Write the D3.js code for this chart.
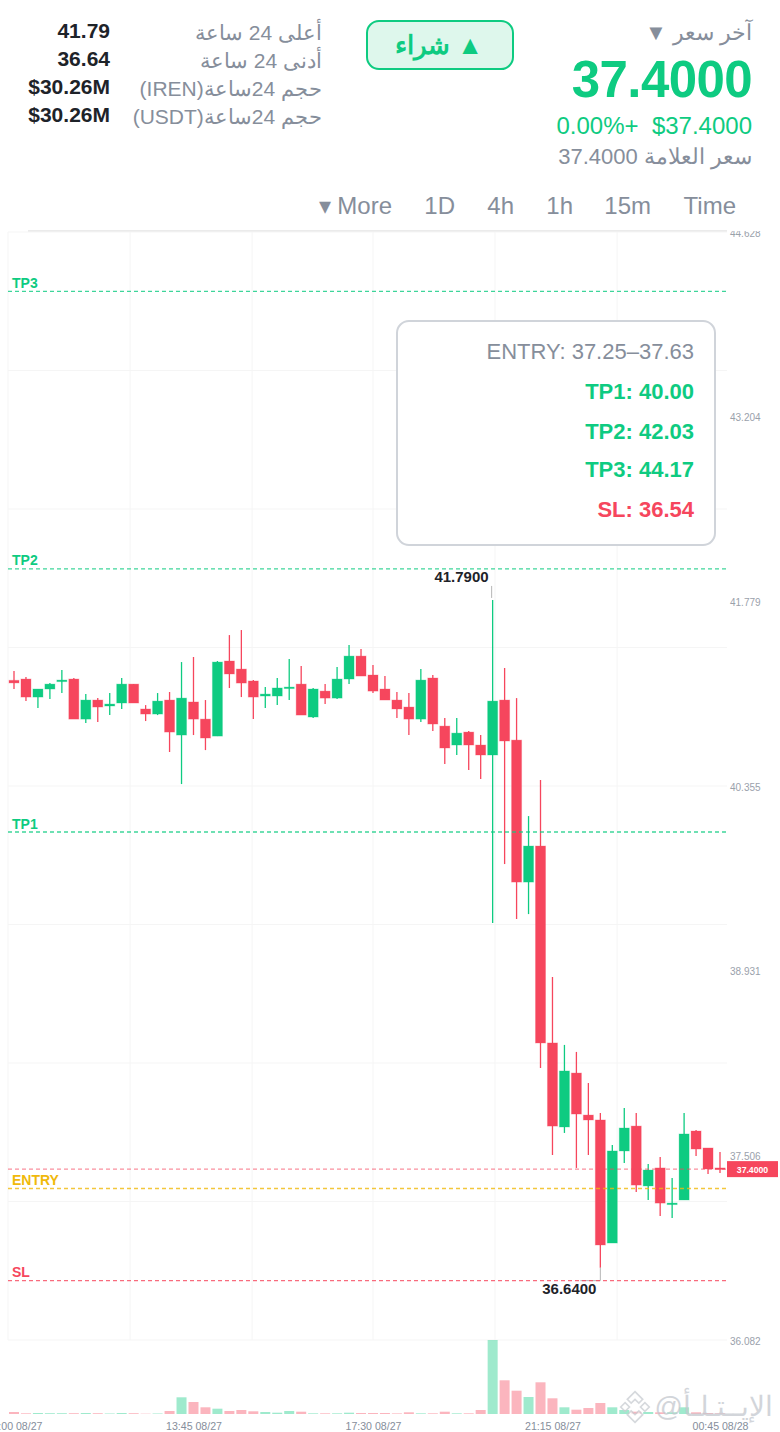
<!DOCTYPE html>
<html>
<head>
<meta charset="utf-8">
<script src="https://cdn.jsdelivr.net/npm/d3@7"></script>
<style>
  html, body { margin: 0; padding: 0; background: #fff; overflow: hidden; }
  svg { display: block; font-family: "Liberation Sans", Arial, sans-serif; }
</style>
</head>
<body>
<div id="viz"></div>
<script>
const width = 780;
const height = 1432;

// candles, 15 minute bars
const opens = [41.17,41.18,41.041,41.103,41.16,41.18,40.871,41.018,40.972,40.995,41.141,40.949,40.91,41.018,40.748,41.003,40.871,40.74,41.319,41.257,41.165,41.049,41.049,41.111,41.141,40.887,41.087,41.033,41.18,41.357,41.211,41.103,41.018,40.964,40.871,41.188,40.817,40.671,40.771,40.671,40.594,41.018,40.709,39.614,39.892,38.373,37.725,38.141,37.817,37.779,36.83,37.54,37.732,37.27,37.409,37.131,37.162,37.694,37.563,37.409];
const highs = [41.242,41.195,41.103,41.149,41.249,41.188,41.064,41.033,41.072,41.188,41.141,40.979,41.072,41.08,41.311,41.35,41.018,41.319,41.519,41.558,41.172,41.118,41.188,41.334,41.28,41.111,41.141,41.273,41.442,41.411,41.288,41.203,41.08,41.072,41.257,41.211,40.879,40.879,40.779,40.748,41.79,41.265,41.033,40.123,40.401,38.882,38.358,38.304,38.064,37.833,37.586,37.871,37.833,37.439,37.493,37.331,37.833,37.702,37.563,37.532];
const lows = [41.103,41.01,40.956,41.026,41.072,40.871,40.841,40.848,40.902,40.949,40.995,40.856,40.902,40.617,40.37,40.748,40.632,40.74,41.111,41.041,40.871,40.956,40.979,41.018,40.902,40.879,40.987,41.026,41.141,41.203,41.072,41.018,40.879,40.748,40.848,40.779,40.524,40.594,40.478,40.409,39.298,39.753,39.329,39.367,38.18,37.509,37.679,37.409,37.509,36.64,36.83,37.447,37.223,37.162,37.038,37.023,37.162,37.501,37.362,37.37];
const closes = [41.15,41.041,41.103,41.141,41.172,40.871,41.018,40.964,40.987,41.141,40.995,40.91,41.01,40.771,41.033,40.871,40.725,41.311,41.219,41.149,41.041,41.064,41.111,41.118,40.902,41.103,41.033,41.18,41.357,41.203,41.087,41.018,40.949,40.871,41.172,40.833,40.648,40.763,40.671,40.594,41.01,40.702,39.614,39.892,38.373,37.732,38.157,37.825,37.779,36.815,37.54,37.717,37.277,37.393,37.138,37.138,37.671,37.555,37.401,37.4];
const volumes = [178,62,89,71,71,71,89,71,45,89,71,27,45,267,1486,1068,596,472,267,356,240,178,116,267,205,62,62,62,116,89,89,89,53,151,62,62,205,62,62,356,6586,2999,2074,1513,2821,1397,596,383,534,979,596,356,205,178,151,151,596,151,89,62];

// axis labels
const priceTicks = [36.082,37.506,38.931,40.355,41.779,43.204,44.628];
const timeTicks = [0,15,30,45,59];
const timeLabels = ["10:00 08/27","13:45 08/27","17:30 08/27","21:15 08/27","00:45 08/28"];
const gridTimes = [-0.5,9.7,19.9,30,40.2,50.4];

// trade levels
const levelNames = ["TP3","TP2","TP1","ENTRY","SL"];
const levelPrices = [44.17,42.03,40.00,37.25,36.54];
const levelColors = ["#0ecb81","#0ecb81","#0ecb81","#f0b90b","#f6465d"];
const lastPrice = 37.4;

// header and box text
const statLabels = ["أعلى 24 ساعة","أدنى 24 ساعة","حجم 24ساعة(IREN)","حجم 24ساعة(USDT)"];
const statValues = ["41.79","36.64","$30.26M","$30.26M"];
const intervals = ["Time","15m","1h","4h","1D","▾ More"];
const boxLines = ["ENTRY: 37.25–37.63","TP1: 40.00","TP2: 42.03","TP3: 44.17","SL: 36.54"];

const green = "#0ecb81";
const red = "#f6465d";
const gray = "#868e9b";
const dark = "#1e2329";

const svg = d3.select("#viz")
    .append("svg")
    .attr("width", width)
    .attr("height", height)
    .attr("viewBox", `0 0 ${width} ${height}`);

const xScale = d3.scaleLinear().domain([0, 59]).range([14, 720]);
const yScale = d3.scaleLinear().domain([36.082, 44.628]).range([1340, 232]);
const volScale = d3.scaleLinear().domain([0, d3.max(volumes)]).range([1414, 1340]);

const plotLeft = 8;
const plotRight = 727;

// header
const rtlText = (txt, x, y, size, fill, weight) => svg.append("text")
    .attr("x", x)
    .attr("y", y)
    .attr("direction", "rtl")
    .attr("text-anchor", "start")
    .attr("font-size", size)
    .attr("font-weight", weight || "normal")
    .attr("fill", fill)
    .text(txt);

rtlText("آخر سعر ▼", 752, 40, 22, gray);
svg.append("text").attr("x", 752).attr("y", 97).attr("text-anchor", "end")
    .attr("font-size", 51).attr("font-weight", "bold").attr("fill", green)
    .attr("letter-spacing", -0.6).text("37.4000");
rtlText("$37.4000\u00a0\u00a0+0.00%", 752, 134, 24, green);
rtlText("سعر العلامة 37.4000", 752, 164, 22, gray);

svg.append("rect")
    .attr("x", 367).attr("y", 21).attr("width", 146).attr("height", 48).attr("rx", 12)
    .attr("fill", "#def7ec").attr("stroke", green).attr("stroke-width", 2);
svg.append("text").attr("x", 439).attr("y", 54).attr("direction", "rtl").attr("text-anchor", "middle")
    .attr("font-size", 26).attr("font-weight", "bold").attr("fill", green).text("▲ شراء");

statLabels.forEach((d, i) => {
    rtlText(d, 322, 40 + i * 28, 21, gray);
    svg.append("text").attr("x", 110).attr("y", 38 + i * 28).attr("text-anchor", "end")
        .attr("font-size", 21).attr("font-weight", "bold").attr("fill", dark).text(statValues[i]);
});

const intervalRight = [736, 651, 573, 514, 455, 392];
intervals.forEach((d, i) => {
    svg.append("text").attr("x", intervalRight[i]).attr("y", 214).attr("text-anchor", "end")
        .attr("font-size", 24).attr("fill", gray).text(d);
});

svg.append("line").attr("x1", 28).attr("x2", plotRight).attr("y1", 231).attr("y2", 231)
    .attr("stroke", "#ebebeb").attr("stroke-width", 2);

// grid, 8 rows
const g = svg.append("g");
const gridPrices = d3.range(9).map(i => 36.082 + i * (44.628 - 36.082) / 8);
g.selectAll(".hgrid").data(gridPrices).enter().append("line")
    .attr("class", "hgrid")
    .attr("x1", plotLeft).attr("x2", plotRight)
    .attr("y1", d => yScale(d)).attr("y2", d => yScale(d))
    .attr("stroke", "#f5f5f5").attr("stroke-width", 1);
g.selectAll(".vgrid").data(gridTimes).enter().append("line")
    .attr("class", "vgrid")
    .attr("x1", d => xScale(d)).attr("x2", d => xScale(d))
    .attr("y1", 232).attr("y2", 1340)
    .attr("stroke", "#f5f5f5").attr("stroke-width", 1);

// volume
const idx = d3.range(volumes.length);
const isUp = i => closes[i] >= opens[i];
g.selectAll(".vol").data(idx).enter().append("rect")
    .attr("class", "vol")
    .attr("x", i => xScale(i) - 5)
    .attr("width", 10)
    .attr("y", i => volScale(volumes[i]))
    .attr("height", i => 1414 - volScale(volumes[i]))
    .attr("fill", i => isUp(i) ? green : red)
    .attr("opacity", 0.4);

// candles
g.selectAll(".wick").data(idx).enter().append("line")
    .attr("class", "wick")
    .attr("x1", i => xScale(i)).attr("x2", i => xScale(i))
    .attr("y1", i => yScale(highs[i])).attr("y2", i => yScale(lows[i]))
    .attr("stroke", i => isUp(i) ? green : red)
    .attr("stroke-width", 1.3);
g.selectAll(".body").data(idx).enter().append("rect")
    .attr("class", "body")
    .attr("x", i => xScale(i) - 5)
    .attr("width", 10)
    .attr("y", i => yScale(Math.max(opens[i], closes[i])))
    .attr("height", i => Math.max(1.5, Math.abs(yScale(opens[i]) - yScale(closes[i]))))
    .attr("fill", i => isUp(i) ? green : red)
    .attr("stroke", i => isUp(i) ? green : red)
    .attr("stroke-opacity", 0.3)
    .attr("stroke-width", 1);

// max and min markers
const maxI = d3.greatestIndex(highs);
const minI = d3.leastIndex(lows);
const leader = "#b5b5b5";
g.append("line").attr("x1", xScale(maxI) - 1).attr("x2", xScale(maxI) - 1)
    .attr("y1", yScale(highs[maxI]) - 14).attr("y2", yScale(highs[maxI]) - 2)
    .attr("stroke", leader).attr("stroke-width", 1);
g.append("text").attr("x", xScale(maxI) - 4).attr("y", yScale(highs[maxI]) - 18)
    .attr("text-anchor", "end").attr("font-size", 15).attr("font-weight", "bold").attr("fill", dark)
    .text(highs[maxI].toFixed(4));
g.append("path")
    .attr("d", d3.line()([[xScale(minI), yScale(lows[minI])], [xScale(minI), yScale(lows[minI]) + 13], [xScale(minI) - 20, yScale(lows[minI]) + 13]]))
    .attr("fill", "none").attr("stroke", leader).attr("stroke-width", 1);
g.append("text").attr("x", xScale(minI) - 31).attr("y", yScale(lows[minI]) + 26.5)
    .attr("text-anchor", "middle").attr("font-size", 15).attr("font-weight", "bold").attr("fill", dark)
    .text(lows[minI].toFixed(4));

// level lines
levelNames.forEach((d, i) => {
    const y = yScale(levelPrices[i]);
    g.append("line").attr("x1", plotLeft).attr("x2", plotRight).attr("y1", y).attr("y2", y)
        .attr("stroke", levelColors[i]).attr("stroke-width", 1.4).attr("stroke-dasharray", "4,3")
        .attr("stroke-opacity", 0.8);
    g.append("text").attr("x", 12).attr("y", y - 3.5)
        .attr("font-size", 14).attr("font-weight", "bold").attr("fill", levelColors[i]).text(d);
});

// last price
const lastY = yScale(lastPrice);
g.append("line").attr("x1", plotLeft).attr("x2", plotRight).attr("y1", lastY).attr("y2", lastY)
    .attr("stroke", red).attr("stroke-width", 1.4).attr("stroke-opacity", 0.6).attr("stroke-dasharray", "4,3");

// price axis
svg.append("clipPath").attr("id", "axis-clip").append("rect")
    .attr("x", 700).attr("y", 231).attr("width", 80).attr("height", 1130);
const yAxisG = svg.append("g")
    .attr("clip-path", "url(#axis-clip)")
    .append("g")
    .attr("transform", `translate(${plotRight}, 0.8)`)
    .call(d3.axisRight(yScale).tickValues(priceTicks).tickFormat(d3.format(".3f")).tickSize(0).tickPadding(3));
yAxisG.select(".domain").remove();
yAxisG.selectAll("text").attr("font-size", 10).attr("font-family", "Liberation Sans").attr("fill", "#9aa1ab");

g.append("rect").attr("x", plotRight).attr("y", lastY - 8).attr("width", 51).attr("height", 16).attr("fill", red);
g.append("text").attr("x", plotRight + 25.5).attr("y", lastY + 3.5).attr("text-anchor", "middle")
    .attr("font-size", 8.7).attr("font-weight", "bold").attr("fill", "#fff").text(lastPrice.toFixed(4));

// time axis
const xAxisG = svg.append("g")
    .attr("transform", "translate(0, 1414)")
    .call(d3.axisBottom(xScale).tickValues(timeTicks).tickFormat((d, i) => timeLabels[i]).tickSize(0).tickPadding(8));
xAxisG.select(".domain").remove();
xAxisG.selectAll("text").attr("font-size", 10.6).attr("font-family", "Liberation Sans").attr("fill", gray);

// levels box
svg.append("rect")
    .attr("x", 397).attr("y", 321).attr("width", 318).attr("height", 224).attr("rx", 12)
    .attr("fill", "#fff").attr("stroke", "#d0d4da").attr("stroke-width", 2);
const boxY = [358.5, 398.5, 438.5, 476.5, 516.5];
const boxFill = [gray, green, green, green, red];
boxLines.forEach((d, i) => {
    svg.append("text").attr("x", 694).attr("y", boxY[i]).attr("text-anchor", "end")
        .attr("font-size", 22).attr("font-weight", i ? "bold" : "normal").attr("fill", boxFill[i]).text(d);
});

// watermark
const mark = svg.append("g").attr("opacity", 0.75);
mark.append("g").attr("transform", "translate(635, 1407) scale(1.1)")
    .selectAll("path").data([
        "M0,-14 L7,-7 L3.5,-3.5 L0,-7 L-3.5,-3.5 L-7,-7 Z",
        "M-13,0 L-9,-4 L-5,0 L-9,4 Z",
        "M13,0 L9,-4 L5,0 L9,4 Z",
        "M0,14 L7,7 L3.5,3.5 L0,7 L-3.5,3.5 L-7,7 Z"
    ]).enter().append("path")
    .attr("d", d => d).attr("fill", "#fff").attr("stroke", "#c9cdd2").attr("stroke-width", 1.5);
mark.append("text").attr("x", 773).attr("y", 1416).attr("direction", "rtl").attr("text-anchor", "start")
    .attr("font-size", 28).attr("fill", "#c4c8ce").text("الإيــتـلـأ@");
</script>
</body>
</html>
